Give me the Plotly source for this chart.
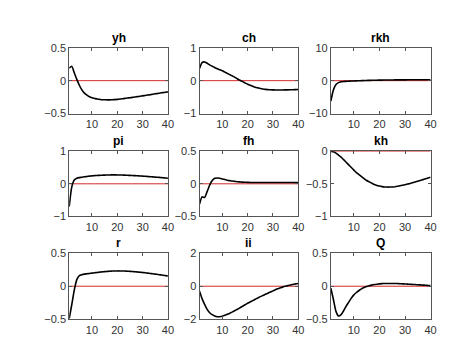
import plotly.graph_objects as go

periods = list(range(1, 41))

titles = ["yh", "ch", "rkh", "pi", "fh", "kh", "r", "ii", "Q"]

yh = [0.19, 0.22, 0.12, 0.02, -0.07, -0.14, -0.19, -0.22, -0.245, -0.26,
      -0.27, -0.28, -0.285, -0.29, -0.29, -0.292, -0.292, -0.29, -0.288, -0.285,
      -0.28, -0.276, -0.27, -0.265, -0.26, -0.255, -0.249, -0.243, -0.237, -0.231,
      -0.225, -0.219, -0.213, -0.207, -0.2, -0.194, -0.188, -0.182, -0.176, -0.17]

ch = [0.37, 0.55, 0.57, 0.53, 0.48, 0.44, 0.40, 0.36, 0.33, 0.30,
      0.26, 0.22, 0.18, 0.14, 0.10, 0.05, 0.01, -0.03, -0.07, -0.11,
      -0.14, -0.17, -0.20, -0.22, -0.24, -0.255, -0.265, -0.272, -0.277, -0.28,
      -0.282, -0.283, -0.283, -0.282, -0.281, -0.279, -0.277, -0.275, -0.272, -0.27]

rkh = [-6.2, -2.8, -1.2, -0.6, -0.35, -0.25, -0.2, -0.16, -0.12, -0.08,
       -0.05, -0.02, 0.01, 0.04, 0.07, 0.09, 0.11, 0.13, 0.15, 0.17,
       0.18, 0.19, 0.2, 0.21, 0.22, 0.23, 0.24, 0.24, 0.25, 0.25,
       0.26, 0.26, 0.27, 0.27, 0.27, 0.28, 0.28, 0.28, 0.29, 0.29]

pi = [-0.7, -0.1, 0.12, 0.17, 0.19, 0.2, 0.215, 0.225, 0.235, 0.243,
      0.25, 0.255, 0.26, 0.264, 0.267, 0.27, 0.272, 0.273, 0.273, 0.272,
      0.27, 0.268, 0.265, 0.262, 0.258, 0.254, 0.25, 0.245, 0.24, 0.235,
      0.23, 0.224, 0.218, 0.212, 0.206, 0.2, 0.193, 0.186, 0.178, 0.17]

fh = [-0.31, -0.2, -0.21, -0.12, -0.02, 0.05, 0.085, 0.09, 0.085, 0.075,
      0.065, 0.055, 0.048, 0.042, 0.037, 0.032, 0.029, 0.026, 0.024, 0.022,
      0.021, 0.02, 0.02, 0.02, 0.02, 0.02, 0.02, 0.02, 0.02, 0.02,
      0.02, 0.02, 0.02, 0.02, 0.02, 0.02, 0.02, 0.02, 0.02, 0.02]

kh = [0.0, -0.01, -0.03, -0.06, -0.09, -0.13, -0.17, -0.21, -0.25, -0.29,
      -0.33, -0.36, -0.39, -0.42, -0.45, -0.47, -0.49, -0.51, -0.525, -0.535,
      -0.543, -0.548, -0.55, -0.55, -0.548, -0.544, -0.538, -0.531, -0.523, -0.514,
      -0.504, -0.494, -0.483, -0.472, -0.46, -0.448, -0.436, -0.424, -0.412, -0.4]

r = [-0.49, -0.28, -0.06, 0.1, 0.16, 0.175, 0.183, 0.188, 0.193, 0.198,
     0.203, 0.208, 0.213, 0.217, 0.221, 0.224, 0.227, 0.229, 0.23, 0.231,
     0.231, 0.23, 0.229, 0.227, 0.225, 0.222, 0.219, 0.215, 0.211, 0.207,
     0.203, 0.198, 0.193, 0.188, 0.183, 0.178, 0.172, 0.166, 0.16, 0.155]

ii = [-0.3, -0.75, -1.1, -1.4, -1.6, -1.72, -1.8, -1.84, -1.84, -1.81,
      -1.76, -1.7, -1.63, -1.55, -1.47, -1.39, -1.3, -1.21, -1.12, -1.03,
      -0.95, -0.87, -0.79, -0.71, -0.63, -0.56, -0.49, -0.42, -0.35, -0.28,
      -0.21, -0.15, -0.09, -0.04, 0.0, 0.04, 0.08, 0.11, 0.14, 0.16]

Q = [-0.03, -0.2, -0.38, -0.45, -0.43, -0.37, -0.3, -0.24, -0.18, -0.13,
     -0.095, -0.065, -0.04, -0.02, -0.005, 0.007, 0.017, 0.025, 0.031, 0.036,
     0.039, 0.041, 0.042, 0.042, 0.042, 0.041, 0.04, 0.038, 0.036, 0.034,
     0.032, 0.03, 0.027, 0.025, 0.022, 0.02, 0.017, 0.015, 0.012, 0.01]

series = [yh, ch, rkh, pi, fh, kh, r, ii, Q]

y_ranges = [[-0.5, 0.5], [-1, 1], [-10, 10], [-1, 1], [-0.5, 0.5],
            [-1, 0], [-0.5, 0.5], [-2, 2], [-0.5, 0.5]]
y_ticks = [[-0.5, 0, 0.5], [-1, 0, 1], [-10, 0, 10], [-1, 0, 1], [-0.5, 0, 0.5],
           [-1, -0.5, 0], [-0.5, 0, 0.5], [-2, 0, 2], [-0.5, 0, 0.5]]
x_ticks = [10, 20, 30, 40]

W, H = 474, 355
col_px = [(62, 162), (194, 294), (327, 428)]
row_px = [(35, 103), (142, 209.5), (247.5, 316)]

fig = go.Figure()
axis_color = "#555555"
font_family = "Liberation Sans, Arial, sans-serif"

for i, (name, vals) in enumerate(zip(titles, series)):
    rr, cc = divmod(i, 3)
    n = i + 1
    xa = "x" if n == 1 else f"x{n}"
    ya = "y" if n == 1 else f"y{n}"
    x0, x1 = col_px[cc]
    y0, y1 = row_px[rr]
    xd = [x0 / W, x1 / W]
    yd = [1 - y1 / H, 1 - y0 / H]
    # zero line (red)
    fig.add_trace(go.Scatter(x=[periods[0], periods[-1]], y=[0, 0], mode="lines",
                             line=dict(color="#d42a2a", width=1),
                             xaxis=xa, yaxis=ya, showlegend=False, hoverinfo="skip"))
    fig.add_trace(go.Scatter(x=periods, y=vals, mode="lines",
                             line=dict(color="black", width=1.6, shape="spline", smoothing=0.6),
                             xaxis=xa, yaxis=ya, showlegend=False))
    common = dict(showgrid=False, zeroline=False, showline=True, linecolor=axis_color,
                  linewidth=1, mirror="ticks", ticks="inside", ticklen=3,
                  tickcolor=axis_color, tickfont=dict(size=11, color="#333333", family=font_family))
    fig.update_layout(**{
        ("xaxis" if n == 1 else f"xaxis{n}"): dict(domain=xd, range=[1, 40], tickvals=x_ticks,
                                                   anchor=ya, **common),
        ("yaxis" if n == 1 else f"yaxis{n}"): dict(domain=yd, range=y_ranges[i], tickvals=y_ticks[i],
                                                   anchor=xa, **common),
    })
    fig.add_annotation(text=f"<b>{name}</b>", x=(xd[0] + xd[1]) / 2, y=yd[1],
                       xref="paper", yref="paper", xanchor="center", yanchor="bottom",
                       yshift=1, showarrow=False,
                       font=dict(size=12, color="black", family=font_family))

fig.update_layout(width=W, height=H, margin=dict(l=0, r=0, t=0, b=0),
                  paper_bgcolor="white", plot_bgcolor="white",
                  font=dict(family=font_family))

fig.write_html("out.html")
